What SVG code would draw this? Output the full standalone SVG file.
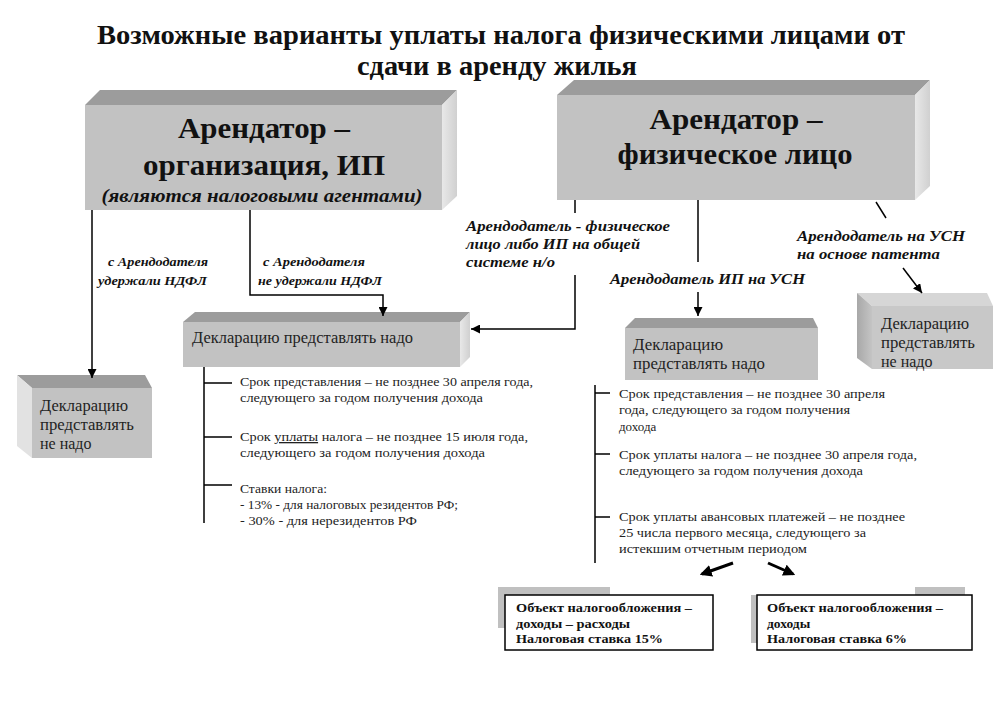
<svg xmlns="http://www.w3.org/2000/svg" width="1000" height="707" viewBox="0 0 1000 707">
<defs>
<marker id="ah" viewBox="0 0 10 10" refX="10" refY="5" markerWidth="9" markerHeight="9" markerUnits="userSpaceOnUse" orient="auto">
<path d="M0,0 L10,5 L0,10 z" fill="#000"/>
</marker>
<marker id="ahb" viewBox="0 0 10 10" refX="8" refY="5" markerWidth="12" markerHeight="12" markerUnits="userSpaceOnUse" orient="auto">
<path d="M0,0 L10,5 L0,10 z" fill="#000"/>
</marker>
<linearGradient id="sideG" x1="0" y1="0" x2="1" y2="0">
<stop offset="0" stop-color="#e8e8e8"/><stop offset="1" stop-color="#d0d0d0"/>
</linearGradient>
<linearGradient id="leftG" x1="0" y1="0" x2="1" y2="0">
<stop offset="0" stop-color="#a8a8a8"/><stop offset="1" stop-color="#c4c4c4"/>
</linearGradient>
</defs>
<rect width="1000" height="707" fill="#fff"/>

<g id="title" font-family="Times New Roman, Liberation Serif, serif" font-weight="bold" font-size="28" fill="#111" text-anchor="middle">
<text font-family="Times New Roman, Liberation Serif, serif" x="501" y="44" textLength="808" lengthAdjust="spacingAndGlyphs">Возможные варианты уплаты налога физическими лицами от</text>
<text font-family="Times New Roman, Liberation Serif, serif" x="497" y="75" textLength="280" lengthAdjust="spacingAndGlyphs">сдачи в аренду жилья</text>
</g>

<g id="node-org" font-family="Times New Roman, Liberation Serif, serif" fill="#111">
<polygon fill="#9c9c9c" points="85,105 100,90 457,90 442,105"/>
<polygon fill="url(#sideG)" points="442,105 457,90 457,196 442,210"/>
<rect fill="#c2c2c2" x="85" y="105" width="357" height="105"/>
<text font-family="Times New Roman, Liberation Serif, serif" x="264" y="138" font-weight="bold" font-size="30" text-anchor="middle" textLength="172" lengthAdjust="spacingAndGlyphs">Арендатор –</text>
<text font-family="Times New Roman, Liberation Serif, serif" x="264" y="175" font-weight="bold" font-size="30" text-anchor="middle" textLength="242" lengthAdjust="spacingAndGlyphs">организация, ИП</text>
<text font-family="Times New Roman, Liberation Serif, serif" x="262" y="202" font-weight="bold" font-style="italic" font-size="19" text-anchor="middle" textLength="321" lengthAdjust="spacingAndGlyphs">(являются налоговыми агентами)</text>
</g>

<g id="node-fl" font-family="Times New Roman, Liberation Serif, serif" fill="#111">
<polygon fill="#9c9c9c" points="557,95 574,80 930,80 915,95"/>
<polygon fill="url(#sideG)" points="915,95 930,80 930,186 915,200"/>
<rect fill="#c2c2c2" x="557" y="95" width="358" height="105"/>
<text font-family="Times New Roman, Liberation Serif, serif" x="736" y="129" font-weight="bold" font-size="30" text-anchor="middle" textLength="173" lengthAdjust="spacingAndGlyphs">Арендатор –</text>
<text font-family="Times New Roman, Liberation Serif, serif" x="735" y="164" font-weight="bold" font-size="30" text-anchor="middle" textLength="235" lengthAdjust="spacingAndGlyphs">физическое лицо</text>
</g>

<g id="node-decl-left" font-family="Times New Roman, Liberation Serif, serif" font-size="16" fill="#222">
<polygon fill="#9c9c9c" points="183,322 195,312 470,312 460,322"/>
<polygon fill="url(#sideG)" points="460,322 470,312 470,357 460,367"/>
<rect fill="#c2c2c2" x="183" y="322" width="277" height="45"/>
<text font-family="Times New Roman, Liberation Serif, serif" x="192" y="343" textLength="221" lengthAdjust="spacingAndGlyphs">Декларацию представлять надо</text>
</g>

<g id="node-nodecl-left" font-family="Times New Roman, Liberation Serif, serif" font-size="16" fill="#222">
<polygon fill="#9c9c9c" points="32,388 17,375 145,375 152,388"/>
<polygon fill="#e2e2e2" points="17,375 32,388 32,458 17,446"/>
<rect fill="#c2c2c2" x="32" y="388" width="120" height="70"/>
<text font-family="Times New Roman, Liberation Serif, serif" x="40" y="411" textLength="88" lengthAdjust="spacingAndGlyphs">Декларацию</text>
<text font-family="Times New Roman, Liberation Serif, serif" x="40" y="430" textLength="94" lengthAdjust="spacingAndGlyphs">представлять</text>
<text font-family="Times New Roman, Liberation Serif, serif" x="40" y="449">не надо</text>
</g>

<g id="node-decl-right" font-family="Times New Roman, Liberation Serif, serif" font-size="16" fill="#222">
<polygon fill="#9c9c9c" points="625,328 635,318 813,318 818,328"/>
<rect fill="#c2c2c2" x="625" y="328" width="193" height="52"/>
<text font-family="Times New Roman, Liberation Serif, serif" x="633" y="350" textLength="90" lengthAdjust="spacingAndGlyphs">Декларацию</text>
<text font-family="Times New Roman, Liberation Serif, serif" x="633" y="369" textLength="132" lengthAdjust="spacingAndGlyphs">представлять надо</text>
</g>

<g id="node-nodecl-right" font-family="Times New Roman, Liberation Serif, serif" font-size="16" fill="#222">
<polygon fill="#d6d6d6" points="857,293 987,293 993,306 872,306"/>
<polygon fill="url(#leftG)" points="857,293 872,306 872,369 857,358"/>
<rect fill="#c8c8c8" x="872" y="306" width="121" height="63"/>
<text font-family="Times New Roman, Liberation Serif, serif" x="881" y="329" textLength="88" lengthAdjust="spacingAndGlyphs">Декларацию</text>
<text font-family="Times New Roman, Liberation Serif, serif" x="881" y="348" textLength="94" lengthAdjust="spacingAndGlyphs">представлять</text>
<text font-family="Times New Roman, Liberation Serif, serif" x="881" y="367">не надо</text>
</g>

<g id="list-left" font-family="Times New Roman, Liberation Serif, serif" font-size="13" fill="#222">
<text font-family="Times New Roman, Liberation Serif, serif" x="240" y="386" textLength="293" lengthAdjust="spacingAndGlyphs">Срок представления – не позднее 30 апреля года,</text>
<text font-family="Times New Roman, Liberation Serif, serif" x="240" y="402" textLength="243" lengthAdjust="spacingAndGlyphs">следующего за годом получения дохода</text>
<text font-family="Times New Roman, Liberation Serif, serif" x="240" y="441" textLength="288" lengthAdjust="spacingAndGlyphs">Срок <tspan text-decoration="underline">уплаты</tspan> налога – не позднее 15 июля года,</text>
<text font-family="Times New Roman, Liberation Serif, serif" x="240" y="457" textLength="245" lengthAdjust="spacingAndGlyphs">следующего за годом получения дохода</text>
<text font-family="Times New Roman, Liberation Serif, serif" x="240" y="493" textLength="87" lengthAdjust="spacingAndGlyphs">Ставки налога:</text>
<text font-family="Times New Roman, Liberation Serif, serif" x="240" y="509" textLength="218" lengthAdjust="spacingAndGlyphs">- 13% - для налоговых резидентов РФ;</text>
<text font-family="Times New Roman, Liberation Serif, serif" x="240" y="525" textLength="177" lengthAdjust="spacingAndGlyphs">- 30% - для нерезидентов РФ</text>
</g>

<g id="list-right" font-family="Times New Roman, Liberation Serif, serif" font-size="13" fill="#222">
<text font-family="Times New Roman, Liberation Serif, serif" x="619" y="398" textLength="266" lengthAdjust="spacingAndGlyphs">Срок представления – не позднее 30 апреля</text>
<text font-family="Times New Roman, Liberation Serif, serif" x="619" y="414" textLength="231" lengthAdjust="spacingAndGlyphs">года, следующего за годом получения</text>
<text font-family="Times New Roman, Liberation Serif, serif" x="619" y="431">дохода</text>
<text font-family="Times New Roman, Liberation Serif, serif" x="619" y="459" textLength="298" lengthAdjust="spacingAndGlyphs">Срок уплаты налога – не позднее 30 апреля года,</text>
<text font-family="Times New Roman, Liberation Serif, serif" x="619" y="475" textLength="244" lengthAdjust="spacingAndGlyphs">следующего за годом получения дохода</text>
<text font-family="Times New Roman, Liberation Serif, serif" x="619" y="521" textLength="286" lengthAdjust="spacingAndGlyphs">Срок уплаты авансовых платежей – не позднее</text>
<text font-family="Times New Roman, Liberation Serif, serif" x="619" y="537" textLength="247" lengthAdjust="spacingAndGlyphs">25 числа первого месяца, следующего за</text>
<text font-family="Times New Roman, Liberation Serif, serif" x="619" y="553" textLength="188" lengthAdjust="spacingAndGlyphs">истекшим отчетным периодом</text>
</g>

<g id="node-usn15" font-family="Times New Roman, Liberation Serif, serif" font-weight="bold" font-size="13.5" fill="#111">
<rect fill="#c0c0c0" x="498" y="587" width="112" height="41"/>
<rect fill="#fff" stroke="#000" stroke-width="1.5" x="505" y="595" width="208" height="55"/>
<text font-family="Times New Roman, Liberation Serif, serif" x="516" y="612" textLength="176" lengthAdjust="spacingAndGlyphs">Объект налогообложения –</text>
<text font-family="Times New Roman, Liberation Serif, serif" x="516" y="628" textLength="114" lengthAdjust="spacingAndGlyphs">доходы – расходы</text>
<text font-family="Times New Roman, Liberation Serif, serif" x="516" y="643" textLength="147" lengthAdjust="spacingAndGlyphs">Налоговая ставка 15%</text>
</g>

<g id="node-usn6" font-family="Times New Roman, Liberation Serif, serif" font-weight="bold" font-size="13.5" fill="#111">
<rect fill="#c0c0c0" x="915" y="587" width="50" height="9"/>
<rect fill="#c0c0c0" x="751" y="595" width="7" height="48"/>
<rect fill="#fff" stroke="#000" stroke-width="1.5" x="757" y="595" width="215" height="55"/>
<text font-family="Times New Roman, Liberation Serif, serif" x="767" y="612" textLength="176" lengthAdjust="spacingAndGlyphs">Объект налогообложения –</text>
<text font-family="Times New Roman, Liberation Serif, serif" x="767" y="628">доходы</text>
<text font-family="Times New Roman, Liberation Serif, serif" x="767" y="643" textLength="140" lengthAdjust="spacingAndGlyphs">Налоговая ставка 6%</text>
</g>

<g id="labels" font-family="Times New Roman, Liberation Serif, serif" font-weight="bold" font-style="italic" fill="#111">
<text font-family="Times New Roman, Liberation Serif, serif" font-size="13.5" x="108" y="266" textLength="100" lengthAdjust="spacingAndGlyphs">с Арендодателя</text>
<text font-family="Times New Roman, Liberation Serif, serif" font-size="13.5" x="98" y="285" textLength="109" lengthAdjust="spacingAndGlyphs">удержали НДФЛ</text>
<text font-family="Times New Roman, Liberation Serif, serif" font-size="13.5" x="263" y="266" textLength="102" lengthAdjust="spacingAndGlyphs">с Арендодателя</text>
<text font-family="Times New Roman, Liberation Serif, serif" font-size="13.5" x="258" y="285" textLength="124" lengthAdjust="spacingAndGlyphs">не удержали НДФЛ</text>
<text font-family="Times New Roman, Liberation Serif, serif" font-size="15" x="466" y="231" textLength="204" lengthAdjust="spacingAndGlyphs">Арендодатель - физическое</text>
<text font-family="Times New Roman, Liberation Serif, serif" font-size="15" x="466" y="249" textLength="174" lengthAdjust="spacingAndGlyphs">лицо либо ИП на общей</text>
<text font-family="Times New Roman, Liberation Serif, serif" font-size="15" x="466" y="267" textLength="89" lengthAdjust="spacingAndGlyphs">системе н/о</text>
<text font-family="Times New Roman, Liberation Serif, serif" font-size="15.5" x="610" y="284" textLength="195" lengthAdjust="spacingAndGlyphs">Арендодатель ИП на УСН</text>
<text font-family="Times New Roman, Liberation Serif, serif" font-size="15" x="797" y="241" textLength="168" lengthAdjust="spacingAndGlyphs">Арендодатель на УСН</text>
<text font-family="Times New Roman, Liberation Serif, serif" font-size="15" x="797" y="259" textLength="143" lengthAdjust="spacingAndGlyphs">на основе патента</text>
</g>

<g id="connectors" stroke="#000" stroke-width="1.5" fill="none">
<path d="M92,210 V378" marker-end="url(#ah)"/>
<path d="M250,210 V295 H383 V316" marker-end="url(#ah)"/>
<path d="M575,200 V213"/>
<path d="M575,275 V329 H471" marker-end="url(#ah)"/>
<path d="M698,200 V262"/>
<path d="M698,292 V316" marker-end="url(#ah)"/>
<path d="M876,202 L886,218"/>
<path d="M903,268 L922,293" marker-end="url(#ah)"/>
<path d="M204,367 V523 M204,383 H232 M204,437 H232 M204,485 H232"/>
<path d="M595,385 V563 M595,393 H610 M595,454 H610 M595,517 H610"/>
<path d="M733,563 L702,574" stroke-width="3" marker-end="url(#ahb)"/>
<path d="M768,563 L793,574" stroke-width="3" marker-end="url(#ahb)"/>
</g>
</svg>
